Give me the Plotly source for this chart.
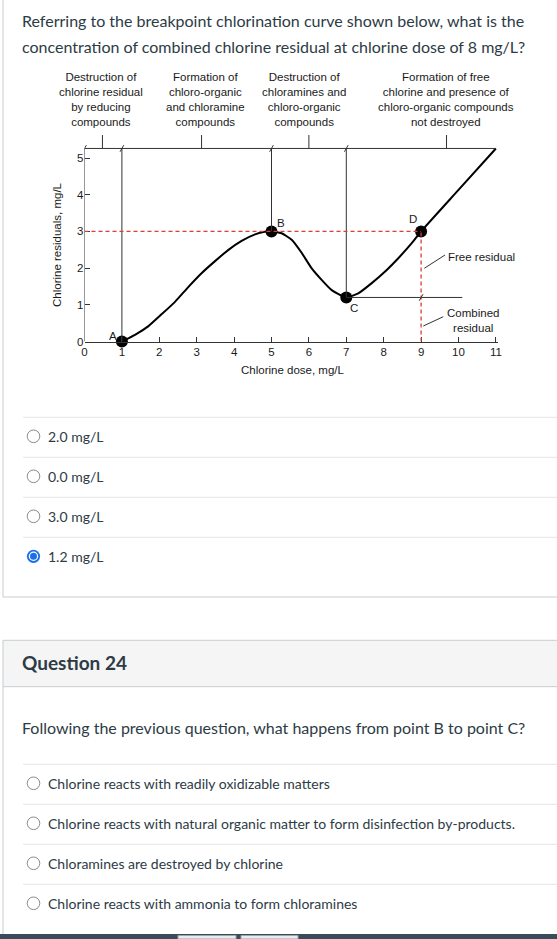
import plotly.graph_objects as go

W, H = 557, 939

# --- chart values ---
dose_curve = [1.0, 1.35, 1.71, 2.06, 2.42, 2.78, 3.13, 3.49, 3.84, 4.20, 4.56, 4.82, 5.0,
              5.27, 5.54, 5.81, 6.07, 6.34, 6.61, 6.83, 7.0,
              7.32, 7.68, 8.03, 8.39, 8.75, 9.0, 10.0, 11.0]
resid_curve = [0.0, 0.18, 0.42, 0.74, 1.08, 1.49, 1.86, 2.19, 2.49, 2.74, 2.92, 2.99, 3.0,
               2.95, 2.77, 2.41, 2.00, 1.68, 1.40, 1.27, 1.20,
               1.31, 1.59, 1.90, 2.27, 2.68, 3.0, 4.13, 5.26]

pt_labels = ["A", "B", "C", "D"]
pt_dose = [1, 5, 7, 9]
pt_resid = [0, 3, 1.2, 3]

box_top = 5.26          # upper frame line of the chart
combined_end = 10.1     # right end of the line through C
header_tick_x = [0.48, 3.13, 6.0, 9.68]
header_text = [
    "Destruction of<br>chlorine residual<br>by reducing<br>compounds",
    "Formation of<br>chloro-organic<br>and chloramine<br>compounds",
    "Destruction of<br>chloramines and<br>chloro-organic<br>compounds",
    "Formation of free<br>chlorine and presence of<br>chloro-organic compounds<br>not destroyed",
]
header_px = [101, 205, 304, 445.5]

x_ticks = list(range(0, 12))
y_ticks = list(range(0, 6))

q23_text = ["Referring to the breakpoint chlorination curve shown below, what is the",
            "concentration of combined chlorine residual at chlorine dose of 8 mg/L?"]
q23_options = ["2.0 mg/L", "0.0 mg/L", "3.0 mg/L", "1.2 mg/L"]
q23_selected = 3
q24_title = "Question 24"
q24_text = "Following the previous question, what happens from point B to point C?"
q24_options = ["Chlorine reacts with readily oxidizable matters",
               "Chlorine reacts with natural organic matter to form disinfection by-products.",
               "Chloramines are destroyed by chlorine",
               "Chlorine reacts with ammonia to form chloramines"]


def px(x):
    return x / W


def py(y):
    return 1 - y / H


PAGE_FONT = "Lato, 'Open Sans', sans-serif"
CHART_FONT = "Arial, 'Liberation Sans', sans-serif"
INK = "#2d3b45"
TXT = "#1a1a1a"
BORDER = "#c7cdd1"
SEP = "#e3e5e7"
LINE = "#333333"
RED = "#e03a3a"
PAD = 3  # annotation inner padding, taken off left-anchored text

fig = go.Figure()

# curve
fig.add_trace(go.Scatter(x=dose_curve, y=resid_curve, mode="lines",
                         line=dict(color="black", width=2, shape="spline", smoothing=0.5),
                         hoverinfo="skip"))
# points A-D
fig.add_trace(go.Scatter(x=pt_dose, y=pt_resid, mode="markers",
                         marker=dict(color="black", size=12), cliponaxis=False,
                         hoverinfo="skip"))

shapes = []
annotations = []


def seg(x0, y0, x1, y1, color=LINE, width=1, dash="solid", ref="data"):
    if ref == "data":
        shapes.append(dict(type="line", xref="x", yref="y", x0=x0, y0=y0, x1=x1, y1=y1,
                           line=dict(color=color, width=width, dash=dash)))
    else:
        shapes.append(dict(type="line", xref="paper", yref="paper",
                           x0=px(x0), y0=py(y0), x1=px(x1), y1=py(y1),
                           line=dict(color=color, width=width, dash=dash)))


def note(text, x, y, size=11.5, family=CHART_FONT, color=TXT, anchor="center", **kw):
    annotations.append(dict(text=text, x=px(x), y=py(y), xref="paper", yref="paper",
                            xanchor=anchor, yanchor="middle", showarrow=False,
                            font=dict(family=family, size=size, color=color), **kw))


# chart frame lines
seg(0, 0, 0, box_top)
seg(0, box_top, dose_curve[-1], box_top)
seg(pt_dose[0], pt_resid[0], pt_dose[0], box_top)
seg(pt_dose[1], pt_resid[1], pt_dose[1], box_top)
seg(pt_dose[2], pt_resid[2], pt_dose[2], box_top)
seg(pt_dose[2], pt_resid[2], combined_end, pt_resid[2])
# red dashed guides
seg(0, pt_resid[1], pt_dose[3], pt_resid[3], color=RED, width=1.3, dash="4px,3px")
seg(pt_dose[3], 0, pt_dose[3], pt_resid[3], color=RED, width=1.3, dash="4px,3px")
# little break marks
for bx, by in [(0, box_top), (pt_dose[0], box_top), (pt_dose[1], box_top),
               (pt_dose[2], box_top), (pt_dose[3], pt_resid[2])]:
    seg(bx - 0.05, by - 0.09, bx + 0.05, by + 0.09, width=1)

# header ticks above frame
for hx in header_tick_x:
    shapes.append(dict(type="line", xref="x", yref="paper", x0=hx, x1=hx,
                       y0=py(148.3), y1=py(135), line=dict(color=LINE, width=1)))

for txt, hx in zip(header_text, header_px):
    note(txt, hx, 99, align="center")

# point labels
offsets = {"A": (-9, 6), "B": (9, 8), "C": (8, -11), "D": (-8, 12)}
for lab, xv, yv in zip(pt_labels, pt_dose, pt_resid):
    dx, dy = offsets[lab]
    annotations.append(dict(text=lab, x=xv, y=yv, xref="x", yref="y", xshift=dx, yshift=dy,
                            showarrow=False, font=dict(family=CHART_FONT, size=11.5, color=TXT)))

# residual call-outs
seg(424.3, 268.3, 445, 255, ref="paper")
seg(423.3, 326, 443.3, 316.7, ref="paper")
note("Free residual", 449 - PAD, 256.7, anchor="left")
note("Combined<br>residual", 473, 320.3, align="center")

# axis titles
note("Chlorine dose, mg/L", 292.5, 370)
note("Chlorine residuals, mg/L", 57, 245, textangle=-90)

# --- page furniture ---
# question 23 box
seg(3, 0, 3, 597, color=BORDER, ref="paper")
seg(3, 597, 557, 597, color=BORDER, ref="paper")
for i, t in enumerate(q23_text):
    note(t, 23 - PAD, 20.5 + 26 * i, size=16, family=PAGE_FONT, color=INK, anchor="left")


def options(opts, first_sep, selected=None):
    for i, t in enumerate(opts):
        ys = first_sep + 40 * i
        seg(23, ys, 557, ys, color=SEP, ref="paper")
        yc = ys + 19
        r = 6.3
        if i == selected:
            for rr, col in [(r + 0.3, "#1b6fe8"), (r - 1.6, "white"), (r - 2.8, "#1b6fe8")]:
                shapes.append(dict(type="circle", xref="paper", yref="paper",
                                   x0=px(33.5 - rr), x1=px(33.5 + rr), y0=py(yc - rr), y1=py(yc + rr),
                                   fillcolor=col, line=dict(width=0)))
        else:
            shapes.append(dict(type="circle", xref="paper", yref="paper",
                               x0=px(33.5 - r), x1=px(33.5 + r), y0=py(yc - r), y1=py(yc + r),
                               fillcolor="white", line=dict(color="#8b8b8b", width=1)))
        note(t, 48.5 - PAD, yc, size=14, family=PAGE_FONT, color=INK, anchor="left")


options(q23_options, 417.3, q23_selected)

# question 24 box
shapes.append(dict(type="rect", xref="paper", yref="paper", x0=px(3), x1=1,
                   y0=py(686.7), y1=py(640.3), fillcolor="#f5f5f5", line=dict(width=0),
                   layer="below"))
seg(3, 640.3, 557, 640.3, color=BORDER, ref="paper")
seg(3, 686.7, 557, 686.7, color=BORDER, ref="paper")
seg(3, 640.3, 3, 939, color=BORDER, ref="paper")
note("<b>" + q24_title + "</b>", 23 - PAD, 662, size=19, family=PAGE_FONT, color=INK, anchor="left")
note(q24_text, 23 - PAD, 727.7, size=16, family=PAGE_FONT, color=INK, anchor="left")
options(q24_options, 764.3)

# dark bar at the bottom edge
shapes.append(dict(type="rect", xref="paper", yref="paper", x0=0, x1=1, y0=0, y1=py(934),
                   fillcolor="#3b4b59", line=dict(width=0)))
for bx0, bx1 in [(178, 236), (241, 298)]:
    shapes.append(dict(type="rect", xref="paper", yref="paper", x0=px(bx0), x1=px(bx1),
                       y0=0, y1=py(935.5), fillcolor="#e9ecef", line=dict(color="#9aa4ad", width=1)))

x0_px, x_unit = 84.5, 37.4
y0_px, y_unit = 341.5, 36.7
x_max, y_max = 11.05, 5.4

fig.update_layout(
    width=W, height=H, margin=dict(l=0, r=0, t=0, b=0, pad=0), autosize=False,
    paper_bgcolor="white", plot_bgcolor="white", showlegend=False,
    shapes=shapes, annotations=annotations,
    xaxis=dict(domain=[px(x0_px), px(x0_px + x_max * x_unit)], range=[0, x_max],
               showline=True, linecolor=LINE, linewidth=1, ticks="inside", ticklen=5,
               tickcolor=LINE, tickvals=x_ticks, ticktext=[str(v) for v in x_ticks],
               showgrid=False, zeroline=False, fixedrange=True, automargin=False,
               tickfont=dict(family=CHART_FONT, size=11.5, color=TXT)),
    yaxis=dict(domain=[py(y0_px), py(y0_px - y_max * y_unit)], range=[0, y_max],
               showline=False, ticks="inside", ticklen=5, tickcolor=LINE,
               tickvals=y_ticks, ticktext=[str(v) for v in y_ticks],
               showgrid=False, zeroline=False, fixedrange=True, automargin=False,
               tickfont=dict(family=CHART_FONT, size=11.5, color=TXT)),
)

# page body has a default 8px margin; drop it and any scrollbars
fig.write_html("out.html", config={"displayModeBar": False},
               post_script="document.body.style.margin='0';"
                           "document.body.style.overflow='hidden';"
                           "document.documentElement.style.overflow='hidden';")
